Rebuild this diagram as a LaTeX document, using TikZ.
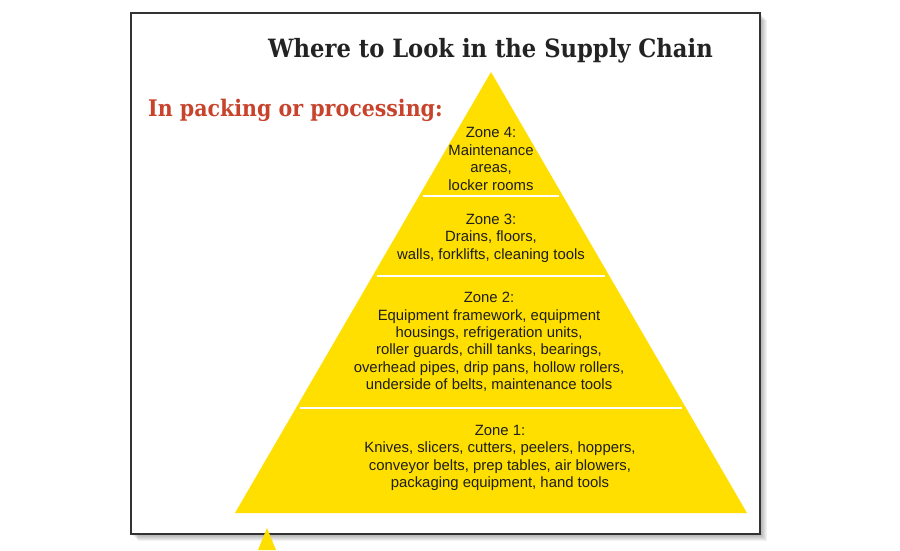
\documentclass[tikz,border=0pt]{standalone}
\usepackage{fontspec}
\setmainfont{Liberation Sans}
\newfontfamily\slabfont{DejaVu Serif Condensed}
\usepackage{tikz}
\usetikzlibrary{calc,positioning}
\definecolor{PyrYellow}{HTML}{FFDF00}
\definecolor{HeadRed}{HTML}{C8432B}
\definecolor{HeadInk}{HTML}{232323}
\definecolor{FrameInk}{HTML}{333333}
\definecolor{BodyInk}{HTML}{1E1E1E}

\begin{document}
\begin{tikzpicture}[
  x=0.03cm,y=-0.03cm,
  zone/.style={align=center,inner sep=0pt,text=BodyInk,
    font=\fontsize{12.7}{14.9}\selectfont},
  heading/.style={inner sep=0pt,font=\slabfont\bfseries\fontsize{21.5}{25}\selectfont},
  sep/.style={draw=white,line width=2.3pt,shorten <=1.2mm,shorten >=1.2mm}
]
\useasboundingbox (0,0) rectangle (900,550);
% frame with soft shadow
\foreach \d in {1,...,7}
  \fill[black,opacity=0.05] (131+\d,13+\d) rectangle (760+\d,534+\d);
\draw[FrameInk,fill=white,line width=1.4pt] (131,13) rectangle (760,534);
% pyramid
\coordinate (apex) at (491,72);
\coordinate (baseL) at (235,513);
\coordinate (baseR) at (747,513);
\fill[PyrYellow] (apex) -- (baseR) -- (baseL) -- cycle;
\foreach \t in {0.2812,0.4626,0.7619}
  \draw[sep] ($(apex)!\t!(baseL)$) -- ($(apex)!\t!(baseR)$);
% small marker below the frame
\coordinate (tip) at (267,528);
\fill[PyrYellow] (tip) -- (276,550) -- (258,550) -- cycle;
% texts
\node[heading,text=HeadInk,anchor=base] (title) at (490.5,57)
  {Where to Look in the Supply Chain};
\node[heading,text=HeadRed,font=\slabfont\bfseries\fontsize{19.5}{23}\selectfont,
  anchor=base west] (where) at (148,116) {In packing or processing:};
\node[zone] (zone4) at (491,159) {Zone 4:\\Maintenance\\areas,\\locker rooms};
\node[zone] (zone3) at (491,238) {Zone 3:\\Drains, floors,\\walls, forklifts, cleaning tools};
\node[zone] (zone2) at (489,342) {Zone 2:\\Equipment framework, equipment\\housings, refrigeration units,\\roller guards, chill tanks, bearings,\\overhead pipes, drip pans, hollow rollers,\\underside of belts, maintenance tools};
\node[zone] (zone1) at (500,458) {Zone 1:\\Knives, slicers, cutters, peelers, hoppers,\\conveyor belts, prep tables, air blowers,\\packaging equipment, hand tools};
\end{tikzpicture}
\end{document}
